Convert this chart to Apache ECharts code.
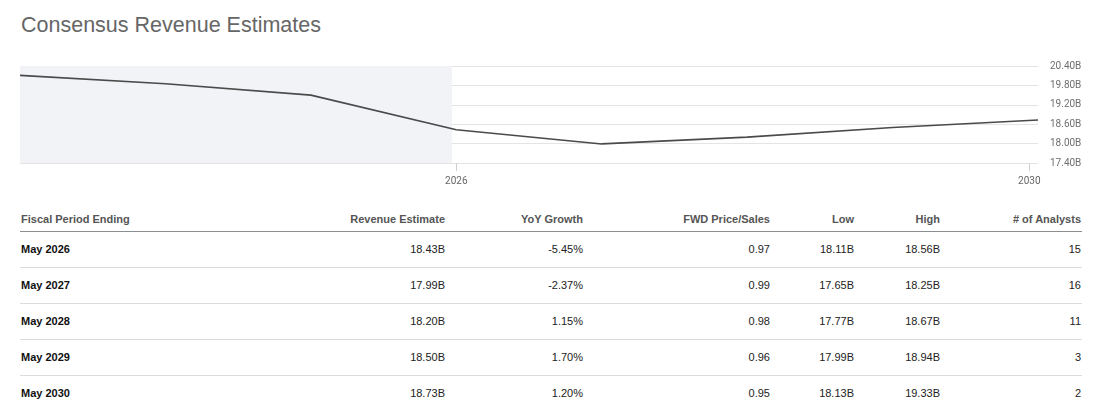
<!DOCTYPE html>
<html>
<head>
<meta charset="utf-8">
<title>Consensus Revenue Estimates</title>
<script src="https://cdn.jsdelivr.net/npm/echarts@6/dist/echarts.min.js"></script>
<style>
  html, body {
    margin: 0;
    padding: 0;
    background: #fff;
    width: 1098px;
    height: 414px;
    overflow: hidden;
    font-family: "Liberation Sans", Arial, sans-serif;
  }
  .title {
    position: absolute;
    left: 21px;
    top: 13px;
    font-size: 21.5px;
    line-height: 24px;
    color: #666;
    white-space: nowrap;
  }
  #chart {
    position: absolute;
    left: 0;
    top: 55px;
    width: 1098px;
    height: 140px;
  }
  .cell {
    position: absolute;
    height: 14px;
    line-height: 14px;
    font-size: 11px;
    white-space: nowrap;
    color: #222;
  }
  .cell.head {
    font-weight: bold;
    color: #555;
  }
  .cell.period {
    font-weight: bold;
    color: #111;
  }
  .rule {
    position: absolute;
    left: 20px;
    width: 1062px;
    height: 1px;
    background: #dcdcdc;
  }
  .rule.head {
    background: #8c8f91;
  }
</style>
</head>
<body>
<div class="title">Consensus Revenue Estimates</div>
<div id="chart"></div>
<div id="table"></div>

<script>
// chart data (revenue, billions)
const years = [2023, 2024, 2025, 2026, 2027, 2028, 2029, 2030]
const revenue = [20.11, 19.85, 19.50, 18.43, 17.99, 18.20, 18.50, 18.73]
const shadedEnd = 2025.97        // past period shading ends just before the 2026 point
const xTickValues = [2026, 2029.94]

// table data
const headers = ['Fiscal Period Ending', 'Revenue Estimate', 'YoY Growth', 'FWD Price/Sales', 'Low', 'High', '# of Analysts']
const periods = ['May 2026', 'May 2027', 'May 2028', 'May 2029', 'May 2030']
const estimates = ['18.43B', '17.99B', '18.20B', '18.50B', '18.73B']
const yoyGrowth = ['-5.45%', '-2.37%', '1.15%', '1.70%', '1.20%']
const fwdPriceSales = ['0.97', '0.99', '0.98', '0.96', '0.95']
const lows = ['18.11B', '17.65B', '17.77B', '17.99B', '18.13B']
const highs = ['18.56B', '18.25B', '18.67B', '18.94B', '19.33B']
const analysts = ['15', '16', '11', '3', '2']

// 画图
const chart = echarts.init(document.getElementById('chart'))
chart.setOption({
  animation: false,
  grid: { left: 20, right: 60, top: 11, bottom: 32 },
  xAxis: {
    type: 'value',
    min: years[0],
    max: years[years.length - 1],
    axisLine: { show: false },
    splitLine: { show: false },
    axisTick: {
      show: true,
      customValues: xTickValues,
      length: 8,
      lineStyle: { color: '#cfcfcf' }
    },
    axisLabel: {
      customValues: xTickValues,
      margin: 13,
      fontSize: 10,
      fontFamily: 'Roboto',
      color: '#666',
      formatter: v => String(Math.round(v))
    }
  },
  yAxis: {
    type: 'value',
    position: 'right',
    min: 17.4,
    max: 20.4,
    interval: 0.6,
    axisLine: { show: false },
    axisTick: { show: false },
    splitLine: { lineStyle: { color: '#e4e4e4', width: 1 } },
    axisLabel: {
      margin: 12,
      fontSize: 10,
      fontFamily: 'Roboto',
      color: '#6f6f6f',
      formatter: v => v.toFixed(2) + 'B'
    }
  },
  series: [{
    type: 'line',
    data: years.map((y, i) => [y, revenue[i]]),
    showSymbol: false,
    smooth: false,
    lineStyle: { color: '#4a4a4a', width: 1.6 },
    z: 3,
    markArea: {
      silent: true,
      itemStyle: { color: '#f2f3f7' },
      data: [[{ xAxis: years[0] }, { xAxis: shadedEnd }]]
    }
  }]
})

// 表格
const table = document.getElementById('table')
const colRight = [null, 445, 583, 770, 854, 940, 1081]
const headCenter = 219
const rowCenter0 = 249
const rowStep = 36

function addCell(text, col, center, cls) {
  const d = document.createElement('div')
  d.className = 'cell ' + cls
  d.textContent = text
  d.style.top = (center - 7) + 'px'
  if (col === 0) {
    d.style.left = '21px'
  } else {
    d.style.right = (1098 - colRight[col]) + 'px'
    d.style.textAlign = 'right'
  }
  table.appendChild(d)
}

function addRule(y, cls) {
  const r = document.createElement('div')
  r.className = 'rule ' + cls
  r.style.top = y + 'px'
  table.appendChild(r)
}

headers.forEach((h, c) => addCell(h, c, headCenter, 'head'))
addRule(231, 'head')

periods.forEach((p, i) => {
  const center = rowCenter0 + i * rowStep
  const cols = [p, estimates[i], yoyGrowth[i], fwdPriceSales[i], lows[i], highs[i], analysts[i]]
  cols.forEach((t, c) => addCell(t, c, center, c === 0 ? 'period' : ''))
  if (i < periods.length - 1) addRule(center + 18, '')
})
</script>
</body>
</html>
